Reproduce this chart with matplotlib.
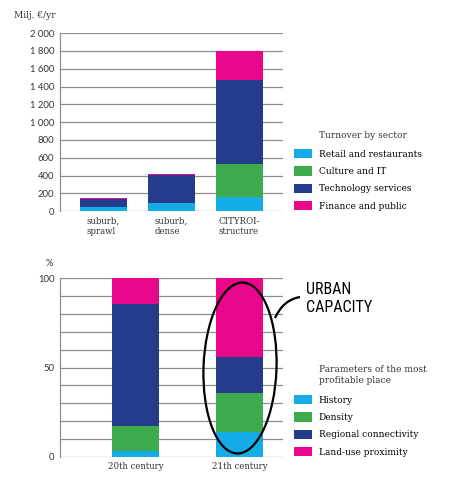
import matplotlib
matplotlib.use('Agg')
import matplotlib.pyplot as plt
from matplotlib.patches import Ellipse, PathPatch
from matplotlib.path import Path
import numpy as np

# ---------------- data ----------------
top_categories = ['suburb,\nsprawl', 'suburb,\ndense', 'CITYROI-\nstructure']
top_series = ['Retail and restaurants', 'Culture and IT', 'Technology services', 'Finance and public']
retail = [42, 88, 157]
culture = [5, 0, 378]
technology = [88, 317, 940]
finance = [10, 15, 325]
top_ticks = [0, 200, 400, 600, 800, 1000, 1200, 1400, 1600, 1800, 2000]
top_ticklabels = ['0', '200', '400', '600', '800', '1 000', '1 200', '1 400', '1 600', '1 800', '2 000']

bot_categories = ['20th century', '21th century']
bot_series = ['History', 'Density', 'Regional connectivity', 'Land-use proximity']
history = [3, 14]
density = [14, 21.5]
connectivity = [68.5, 20.5]
landuse = [14.5, 44]
bot_ticks = [0, 50, 100]

colors = ['#13ace6', '#3daa4b', '#243c8c', '#e8068a']

serif = ['DejaVu Serif Condensed', 'DejaVu Serif']
sans = 'Lato'
hand = ['Roboto Condensed', 'Roboto', 'DejaVu Sans']
grid_c = '#8e8e8e'
txt_c = '#333333'

fig = plt.figure(figsize=(4.64, 4.8), dpi=100)

########################################## top chart ##########################################
ax1 = fig.add_axes([0.129, 0.560, 0.481, 0.371])
x = np.arange(len(top_categories))
bottom = np.zeros(len(x))
handles = []
for vals, c, lab in zip([retail, culture, technology, finance], colors, top_series):
    h = ax1.bar(x, vals, bottom=bottom, width=0.69, color=c, label=lab, zorder=3)
    handles.append(h)
    bottom += np.array(vals)

ax1.set_xlim(-0.64, 2.64)
ax1.set_ylim(0, 2000)
ax1.set_yticks(top_ticks)
ax1.set_yticklabels(top_ticklabels, fontsize=6.8, family=sans, color=txt_c)
ax1.set_xticks(x)
ax1.set_xticklabels(top_categories, fontsize=6.2, family=serif, color=txt_c,
                    multialignment='left')
ax1.tick_params(length=0, pad=4)
ax1.yaxis.grid(True, color=grid_c, linewidth=0.9, zorder=0)
for s in ['top', 'right', 'bottom']:
    ax1.spines[s].set_visible(False)
ax1.spines['left'].set_color(grid_c)
ax1.spines['left'].set_linewidth(0.9)

fig.text(14 / 464, 1 - 16 / 480, 'Milj. €/yr', fontsize=6.5, family=serif,
         color=txt_c, va='center', ha='left')

fig.text(319 / 464, 1 - 136 / 480, 'Turnover by sector', fontsize=6.5, family=serif,
         color=txt_c, va='center', ha='left')
fig.legend(handles=handles, loc='upper left', bbox_to_anchor=(294 / 464, 1 - 149 / 480),
           frameon=False, prop={'family': serif, 'size': 6.5},
           handlelength=2.0, handleheight=1.2, handletextpad=0.75,
           labelspacing=0.85, borderpad=0, borderaxespad=0)

########################################## bottom chart ##########################################
ax2 = fig.add_axes([0.129, 0.0485, 0.481, 0.3715])
x2 = np.arange(len(bot_categories))
bottom = np.zeros(len(x2))
handles2 = []
for vals, c, lab in zip([history, density, connectivity, landuse], colors, bot_series):
    h = ax2.bar(x2, vals, bottom=bottom, width=0.452, color=c, label=lab, zorder=3)
    handles2.append(h)
    bottom += np.array(vals)

ax2.set_xlim(-0.726, 1.418)
ax2.set_ylim(0, 100)
ax2.set_yticks(bot_ticks)
ax2.set_yticklabels([str(t) for t in bot_ticks], fontsize=6.8, family=sans, color=txt_c)
ax2.set_yticks(np.arange(0, 101, 10), minor=True)
ax2.set_xticks(x2)
ax2.set_xticklabels(bot_categories, fontsize=6.2, family=serif, color=txt_c)
ax2.tick_params(which='both', length=0, pad=4)
ax2.yaxis.grid(True, which='both', color=grid_c, linewidth=0.9, zorder=0)
for s in ['top', 'right', 'bottom']:
    ax2.spines[s].set_visible(False)
ax2.spines['left'].set_color(grid_c)
ax2.spines['left'].set_linewidth(0.9)

fig.text(49 / 464, 1 - 263 / 480, '%', fontsize=6.5, family=sans,
         color=txt_c, va='center', ha='center')

fig.text(319 / 464, 1 - 375 / 480, 'Parameters of the most\nprofitable place', fontsize=6.5,
         family=serif, color=txt_c, va='center', ha='left', linespacing=1.3)
fig.legend(handles=handles2, loc='upper left', bbox_to_anchor=(294 / 464, 1 - 395 / 480),
           frameon=False, prop={'family': serif, 'size': 6.5},
           handlelength=2.0, handleheight=1.2, handletextpad=0.75,
           labelspacing=0.85, borderpad=0, borderaxespad=0)

# hand-drawn annotation
tr = fig.dpi_scale_trans
ell = Ellipse((2.40, (480 - 368) / 100), 0.73, 1.71, angle=-2, fill=False,
              edgecolor='black', linewidth=1.6, transform=tr, zorder=5)
fig.add_artist(ell)
verts = [(2.75, (480 - 318) / 100), (2.83, (480 - 300) / 100), (3.00, (480 - 297) / 100)]
curve = PathPatch(Path(verts, [Path.MOVETO, Path.CURVE3, Path.CURVE3]), fill=False,
                  edgecolor='black', linewidth=1.6, transform=tr, zorder=5)
fig.add_artist(curve)
fig.text(306 / 464, 1 - 290 / 480, 'URBAN', fontsize=11.5, family=hand,
         color='black', va='center', ha='left')
fig.text(306 / 464, 1 - 307 / 480, 'CAPACITY', fontsize=11.5, family=hand,
         color='black', va='center', ha='left')

plt.savefig('out.png', dpi=100)
